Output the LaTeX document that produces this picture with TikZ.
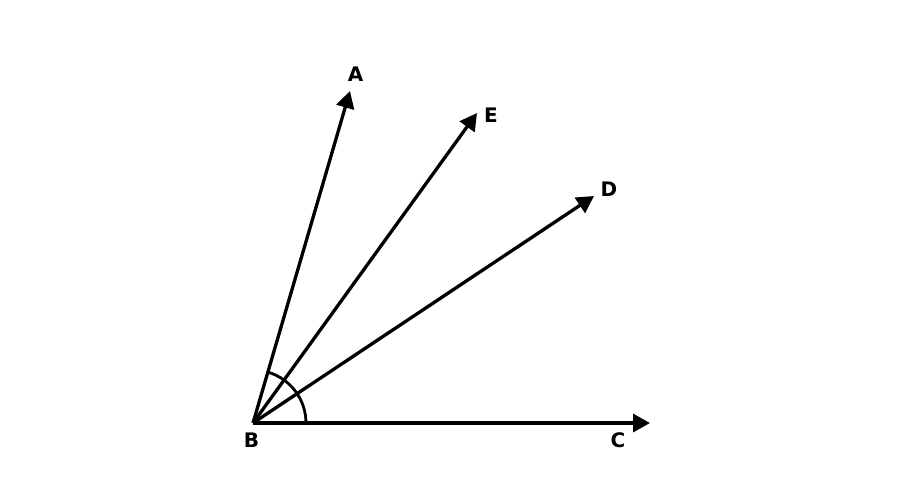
\documentclass[tikz,border=0pt]{standalone}
\usepackage{fontspec}
\setmainfont{DejaVu Sans}
\usetikzlibrary{arrows.meta,calc}
\begin{document}
\begin{tikzpicture}[x=1pt,y=-1pt,
  ray/.style={line width=3.3pt,-{Triangle[length=17pt,width=18pt]}},
  lbl/.style={font=\fontsize{20}{20}\selectfont\bfseries}]
\useasboundingbox (0,0) rectangle (910,499);
\coordinate (B) at (253,423);
\coordinate (A) at (350,91);
\coordinate (E) at (477,113);
\coordinate (D) at (594,196);
\coordinate (C) at (650,423);

\draw[ray] (B) -- (A);
\draw[ray] (B) -- (E);
\draw[ray] (B) -- (D);
\draw[ray] (B) -- (C);
\draw[line width=2.8pt] ($(B)+(53,0)$) arc[start angle=0,end angle=-73.7,radius=53];

\node[lbl] (a) at (355.5,74) {A};
\node[lbl] (e) at (491,115) {E};
\node[lbl] (d) at (609,189) {D};
\node[lbl] (b) at (251.5,440) {B};
\node[lbl] (c) at (618,440) {C};
\end{tikzpicture}
\end{document}
